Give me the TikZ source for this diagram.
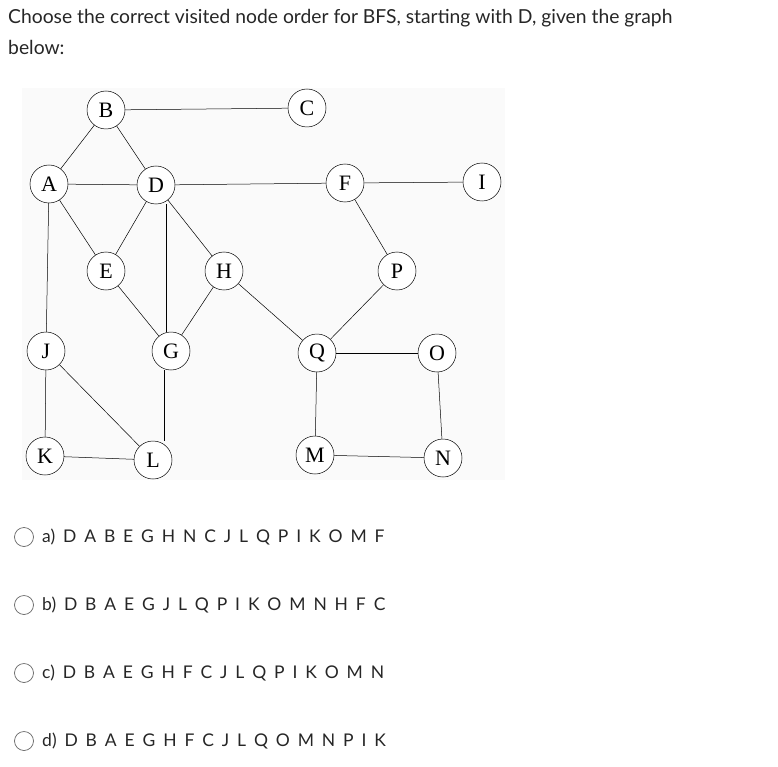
\documentclass[tikz,border=0pt]{standalone}
\usepackage{fontspec}
\setmainfont{Lato}
\newfontfamily\tnr{Liberation Serif}
\newcommand{\widesp}{\spaceskip=0.45em\relax}
\begin{document}
\begin{tikzpicture}[x=1pt,y=-1pt,
  gnode/.style={draw,circle,minimum size=38pt,inner sep=0pt,font=\tnr\fontsize{22}{22}\selectfont,fill=white,line width=0.5pt},
  gedge/.style={line width=0.5pt},
  txt/.style={anchor=west,inner sep=0pt,font=\fontsize{19.3}{21}\selectfont,text=black!85},
  opt/.style={anchor=west,inner sep=0pt,font=\fontsize{17.5}{20}\selectfont,text=black!85},
  radio/.style={draw=black!60,circle,minimum size=19pt,inner sep=0pt,line width=0.7pt}]
\useasboundingbox (0,0) rectangle (778,767);
\fill[black!2] (22,88) rectangle (505,480);
\node[txt] (q1) at (8,18) {Choose the correct visited node order for BFS, starting with D, given the graph};
\node[txt] (q2) at (8,47) {below:};
\foreach \n/\x/\y in {B/106/110,C/307/108,A/49/184,D/156/185,F/345/183,I/482/182,E/106/271,H/224/271,P/397/271,J/46/351,G/171/351,Q/317/353,O/437/353,K/45/456,L/153/460,M/315/455,N/443/458}
  \node[gnode] (\n) at (\x,\y) {\n};
\coordinate (x1) at (166,0);
\coordinate (x2) at (164,0);
\foreach \a/\b in {B/C,B/A,B/D,A/D,D/F,F/I,A/E,A/J,D/E,D/H,F/P,E/G,H/G,H/Q,P/Q,Q/O,J/K,J/L,K/L,Q/M,O/N,M/N}
  \draw[gedge] (\a) -- (\b);
\draw[gedge] (D.south -| x1) -- (G.north -| x1);
\draw[gedge] (G.south -| x2) -- (L.north -| x2);
\foreach \k/\y/\t in {a/537/{a) D A B E G H N C J L Q P I K O M F},b/605/{b) D B A E G J L Q P I K O M N H F C},c/673/{c) D B A E G H F C J L Q P I K O M N},d/741/{d) D B A E G H F C J L Q O M N P I K}}{
  \node[radio] (r\k) at (24,\y) {};
  \node[opt] (o\k) at (42,\y) {\widesp\t};
}
\end{tikzpicture}
\end{document}
